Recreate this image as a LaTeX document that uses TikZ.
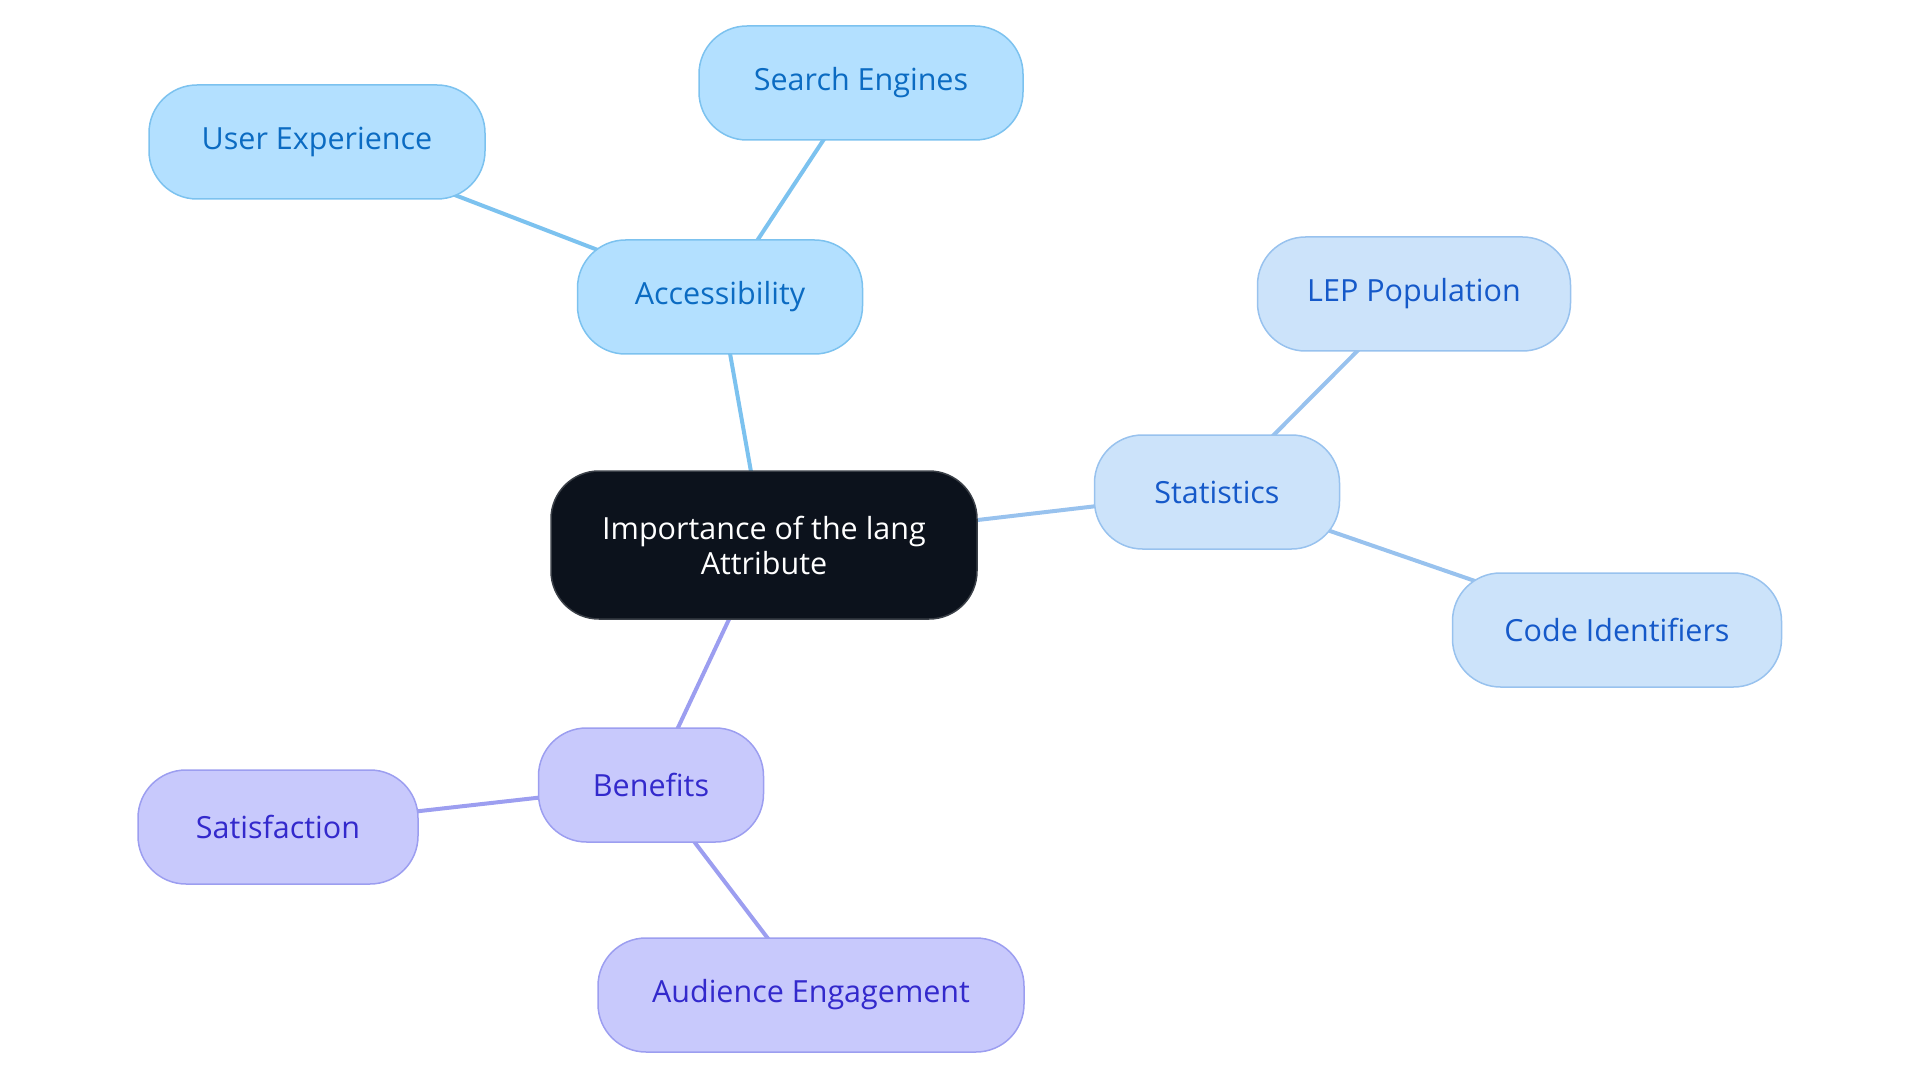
\documentclass[tikz,border=0pt]{standalone}
\usepackage{fontspec}
\setmainfont{Open Sans}
\usetikzlibrary{backgrounds}

\definecolor{rootfill}{HTML}{0C121C}
\definecolor{rootline}{HTML}{3A3F47}
\definecolor{accfill}{HTML}{B3E0FF}
\definecolor{accline}{HTML}{7CC2EF}
\definecolor{acctext}{HTML}{0B6BC2}
\definecolor{statfill}{HTML}{CCE3FA}
\definecolor{statline}{HTML}{98C2EE}
\definecolor{stattext}{HTML}{1559C9}
\definecolor{benfill}{HTML}{C8C9FC}
\definecolor{benline}{HTML}{9C9EF0}
\definecolor{bentext}{HTML}{3329CC}

\tikzset{
  box/.style={rounded corners=48pt, minimum height=114pt, line width=1.5pt,
    align=center, font=\fontsize{30.5}{35}\selectfont},
  rootbox/.style={box, fill=rootfill, draw=rootline, text=white, minimum height=148pt},
  accbox/.style={box, fill=accfill, draw=accline, text=acctext},
  statbox/.style={box, fill=statfill, draw=statline, text=stattext},
  benbox/.style={box, fill=benfill, draw=benline, text=bentext},
  link/.style={line width=4pt}
}

\begin{document}
\begin{tikzpicture}[x=1pt,y=-1pt]
    \useasboundingbox (0,0) rectangle (1920,1083);
    \node[rootbox, minimum width=426pt] (root) at (764,545) {Importance of the lang\\Attribute};
    \node[accbox, minimum width=285pt] (access) at (720,297) {Accessibility};
    \node[accbox, minimum width=324pt] (search) at (861,83) {Search Engines};
    \node[accbox, minimum width=336pt] (user) at (317,142) {User Experience};
    \node[statbox, minimum width=245pt] (stats) at (1217,492) {Statistics};
    \node[statbox, minimum width=313pt] (lep) at (1414,294) {LEP Population};
    \node[statbox, minimum width=329pt] (code) at (1617,630) {Code Identifiers};
    \node[benbox, minimum width=225pt] (benef) at (651,785) {Benefits};
    \node[benbox, minimum width=280pt] (satis) at (278,827) {Satisfaction};
    \node[benbox, minimum width=426pt] (audience) at (811,995) {Audience Engagement};
    \begin{pgfonlayer}{background}
        \draw[link, accline] (root.center)--(access.center);
        \draw[link, accline] (access.center)--(search.center);
        \draw[link, accline] (access.center)--(user.center);
        \draw[link, statline] (root.center)--(stats.center);
        \draw[link, statline] (stats.center)--(lep.center);
        \draw[link, statline] (stats.center)--(code.center);
        \draw[link, benline] (root.center)--(benef.center);
        \draw[link, benline] (benef.center)--(satis.center);
        \draw[link, benline] (benef.center)--(audience.center);
    \end{pgfonlayer}
\end{tikzpicture}
\end{document}
